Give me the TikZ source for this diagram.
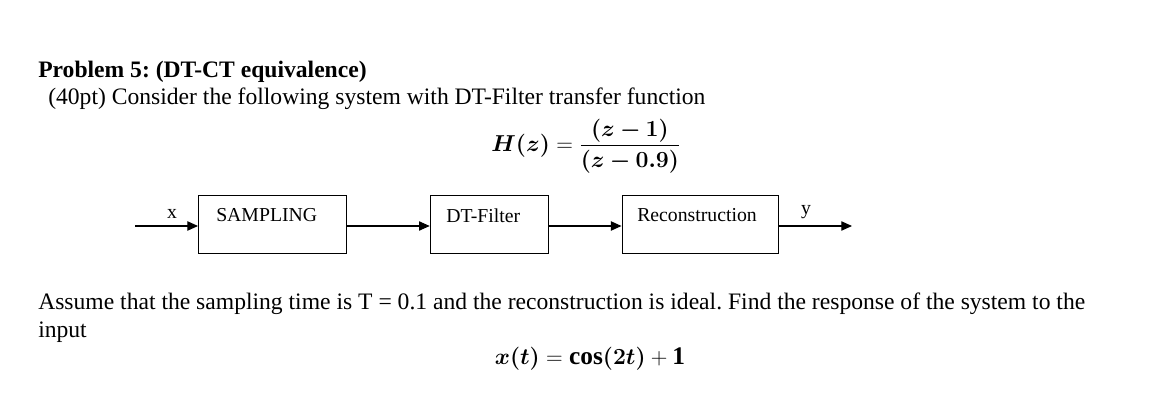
\documentclass[tikz,border=0pt]{standalone}
\usepackage{amsmath}
\usepackage{bm}
\usepackage{fontspec}
\setmainfont{Liberation Serif}
\usetikzlibrary{arrows.meta}
\frenchspacing
\tikzset{
  blk/.style={draw, minimum height=43.5pt, inner sep=0.75pt, line width=0.7pt},
  lbl/.style={anchor=base west, inner sep=0pt, font=\fontsize{14.8}{17}\selectfont},
  sig/.style={-{Triangle[length=8pt,width=7pt]}, line width=0.8pt},
  txt/.style={anchor=base west, inner sep=0pt, font=\fontsize{17.7}{21}\selectfont}
}
\begin{document}
\begin{tikzpicture}[x=0.75pt,y=0.75pt,yscale=-1,xscale=1]
\useasboundingbox (0,0) rectangle (1158,403);

% Text
\node[txt] (title) at (38,78) {\textbf{Problem 5: (DT-CT equivalence)}};
\node[txt] (intro) at (48,105) {(40pt) Consider the following system with DT-Filter transfer function};
\node[inner sep=0pt, font=\fontsize{19}{23}\selectfont] (hz) at (586,146)
  {$\bm{H(z)} = \dfrac{\bm{(z-1)}}{\bm{(z-0.9)}}$};

% Blocks
\node[blk, minimum width=111pt] (samp) at (272.5,224) {};
\node[lbl] at (216,221) {SAMPLING};
\node[blk, minimum width=89pt] (filt) at (489.5,224.5) {};
\node[lbl] at (446,222) {DT-Filter};
\node[blk, minimum width=117pt] (rec) at (700,224) {};
\node[lbl] at (637,221) {Reconstruction};

\coordinate (in) at (135,226);
\coordinate (out) at (852,226);
\draw[sig] (in) -- (samp.west |- in);
\draw[sig] (samp.east |- in) -- (filt.west |- in);
\draw[sig] (filt.east |- in) -- (rec.west |- in);
\draw[sig] (rec.east |- in) -- (out);
\node[inner sep=0pt, font=\fontsize{14.8}{17}\selectfont] (xl) at (172,214) {x};
\node[inner sep=0pt, font=\fontsize{14.8}{17}\selectfont] (yl) at (806,212) {y};

% Text
\node[txt] (assume) at (38,309) {Assume that the sampling time is T = 0.1 and the reconstruction is ideal. Find the response of the system to the};
\node[txt] (input) at (38,337) {input};
\node[inner sep=0pt, font=\fontsize{19}{23}\selectfont, anchor=base] (xt) at (590,364)
  {$\bm{x(t)} = \mathbf{cos}\bm{(2t)} + \mathbf{1}$};
\end{tikzpicture}
\end{document}
